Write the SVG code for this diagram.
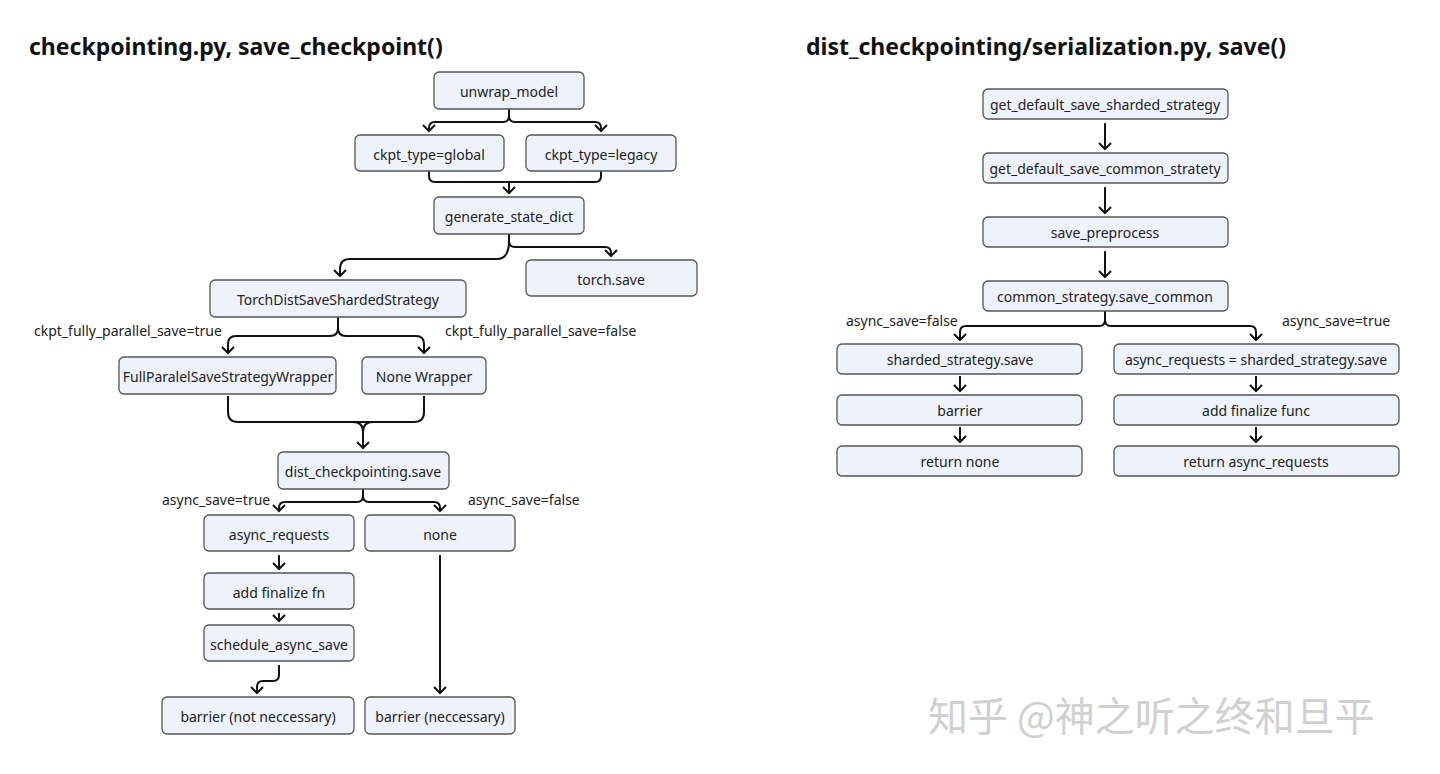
<svg xmlns="http://www.w3.org/2000/svg" width="1440" height="774" viewBox="0 0 1440 774">
<style>
.n{fill:#eef2fb;stroke:#555;stroke-width:1.3}
.t{font-family:"Noto Sans","Liberation Sans",sans-serif;font-size:14px;fill:#222;text-anchor:middle;dominant-baseline:central}
.l{font-family:"Noto Sans","Liberation Sans",sans-serif;font-size:14px;fill:#222}
.h{font-family:"Noto Sans","Liberation Sans",sans-serif;font-size:23px;font-weight:bold;fill:#111}
.c path{fill:none;stroke:#111;stroke-width:2;marker-end:url(#a)}
.c path.m{marker-end:none}
</style>
<defs><marker id="a" markerUnits="userSpaceOnUse" markerWidth="16" markerHeight="16" refX="0" refY="0" viewBox="-8 -8 16 16" orient="auto"><path d="M-6,-6 L0,0 L-6,6" fill="none" stroke="#111" stroke-width="2"/></marker></defs>
<rect width="1440" height="774" fill="#fff"/>
<text class="h" x="29" y="55">checkpointing.py, save_checkpoint()</text>
<text class="h" x="806" y="55">dist_checkpointing/serialization.py, save()</text>
<g class="c" id="connectors">
<path d="M509,109 V116 Q509,122 503,122 H435 Q429,122 429,128 V131"/>
<path d="M509,116 Q509,122 515,122 H595 Q601,122 601,128 V131"/>
<path class="m" d="M429,171 V176 Q429,182 435,182 H595 Q601,182 601,176 V171"/>
<path d="M509,182 V193"/>
<path d="M509,234 V241 Q509,247 515,247 H605 Q611,247 611,253 V256"/>
<path d="M509,241 Q509,259 497,259 H350 Q340,259 340,269 V276"/>
<path d="M338,317 V328 Q338,336 330,336 H236 Q228,336 228,344 V353"/>
<path d="M338,328 Q338,336 346,336 H416 Q424,336 424,344 V353"/>
<path class="m" d="M228,396 V412 Q228,422 238,422 H414 Q424,422 424,412 V396"/>
<path d="M353,422 Q363,422 363,432 V448"/>
<path class="m" d="M373,422 Q363,422 363,432"/>
<path d="M363,489 V496 Q363,502 357,502 H285 Q279,502 279,508 V511"/>
<path d="M363,496 Q363,502 369,502 H434 Q440,502 440,508 V511"/>
<path d="M279,555 V569"/>
<path d="M279,613 V621"/>
<path d="M279,665 V675 Q279,681 273,681 H263 Q257,681 257,687 V693"/>
<path d="M440,555 V693"/>
<path d="M1105,123 V149"/>
<path d="M1105,187 V213"/>
<path d="M1105,251 V277"/>
<path d="M1105,311 V320 Q1105,326 1099,326 H966 Q960,326 960,332 V340"/>
<path d="M1105,320 Q1105,326 1111,326 H1250 Q1256,326 1256,332 V340"/>
<path d="M960,376 V391"/><path d="M960,427 V442"/>
<path d="M1256,376 V391"/><path d="M1256,427 V442"/>
</g>
<g id="unwrap"><rect class="n" x="434" y="72" width="150" height="37" rx="5"/><text class="t" x="509" y="91">unwrap_model</text></g>
<g id="global"><rect class="n" x="355" y="135" width="149" height="36" rx="5"/><text class="t" x="429" y="154">ckpt_type=global</text></g>
<g id="legacy"><rect class="n" x="526" y="135" width="150" height="36" rx="5"/><text class="t" x="601" y="154">ckpt_type=legacy</text></g>
<g id="gsd"><rect class="n" x="434" y="197" width="150" height="37" rx="5"/><text class="t" x="509" y="216">generate_state_dict</text></g>
<g id="torchsave"><rect class="n" x="526" y="260" width="171" height="36" rx="5"/><text class="t" x="611" y="279">torch.save</text></g>
<g id="tdss"><rect class="n" x="210" y="280" width="256" height="37" rx="5"/><text class="t" x="338" y="299">TorchDistSaveShardedStrategy</text></g>
<g id="full"><rect class="n" x="119" y="357" width="217" height="37" rx="5"/><text class="t" x="228" y="376">FullParalelSaveStrategyWrapper</text></g>
<g id="nonew"><rect class="n" x="362" y="357" width="124" height="37" rx="5"/><text class="t" x="424" y="376">None Wrapper</text></g>
<g id="dcs"><rect class="n" x="278" y="452" width="171" height="37" rx="5"/><text class="t" x="363" y="471">dist_checkpointing.save</text></g>
<g id="areq"><rect class="n" x="204" y="515" width="150" height="36" rx="5"/><text class="t" x="279" y="534">async_requests</text></g>
<g id="none"><rect class="n" x="365" y="515" width="150" height="36" rx="5"/><text class="t" x="440" y="534">none</text></g>
<g id="addfin"><rect class="n" x="204" y="573" width="150" height="36" rx="5"/><text class="t" x="279" y="592">add finalize fn</text></g>
<g id="sched"><rect class="n" x="204" y="625" width="150" height="36" rx="5"/><text class="t" x="279" y="644">schedule_async_save</text></g>
<g id="bnot"><rect class="n" x="162" y="697" width="192" height="37" rx="5"/><text class="t" x="258" y="716">barrier (not neccessary)</text></g>
<g id="bnec"><rect class="n" x="365" y="697" width="150" height="37" rx="5"/><text class="t" x="440" y="716">barrier (neccessary)</text></g>
<text class="l" x="34" y="336">ckpt_fully_parallel_save=true</text>
<text class="l" x="445" y="336">ckpt_fully_parallel_save=false</text>
<text class="l" x="162" y="505">async_save=true</text>
<text class="l" x="468" y="505">async_save=false</text>
<g id="r1"><rect class="n" x="983" y="89" width="245" height="30" rx="5"/><text class="t" x="1105" y="104">get_default_save_sharded_strategy</text></g>
<g id="r2"><rect class="n" x="983" y="153" width="245" height="30" rx="5"/><text class="t" x="1105" y="168">get_default_save_common_stratety</text></g>
<g id="r3"><rect class="n" x="983" y="217" width="245" height="30" rx="5"/><text class="t" x="1105" y="232">save_preprocess</text></g>
<g id="r4"><rect class="n" x="983" y="281" width="245" height="30" rx="5"/><text class="t" x="1105" y="296">common_strategy.save_common</text></g>
<g id="r5"><rect class="n" x="837" y="344" width="245" height="30" rx="5"/><text class="t" x="960" y="359">sharded_strategy.save</text></g>
<g id="r6"><rect class="n" x="837" y="395" width="245" height="30" rx="5"/><text class="t" x="960" y="410">barrier</text></g>
<g id="r7"><rect class="n" x="837" y="446" width="245" height="30" rx="5"/><text class="t" x="960" y="461">return none</text></g>
<g id="r8"><rect class="n" x="1114" y="344" width="285" height="30" rx="5"/><text class="t" x="1256" y="359">async_requests = sharded_strategy.save</text></g>
<g id="r9"><rect class="n" x="1114" y="395" width="285" height="30" rx="5"/><text class="t" x="1256" y="410">add finalize func</text></g>
<g id="r10"><rect class="n" x="1114" y="446" width="285" height="30" rx="5"/><text class="t" x="1256" y="461">return async_requests</text></g>
<text class="l" x="846" y="326">async_save=false</text>
<text class="l" x="1282" y="326">async_save=true</text>
<text x="928" y="731" style="font-family:'Noto Sans CJK SC','Noto Sans',sans-serif;font-size:40px;fill:#d0d0d0">知乎 @神之听之终和旦平</text>
</svg>
